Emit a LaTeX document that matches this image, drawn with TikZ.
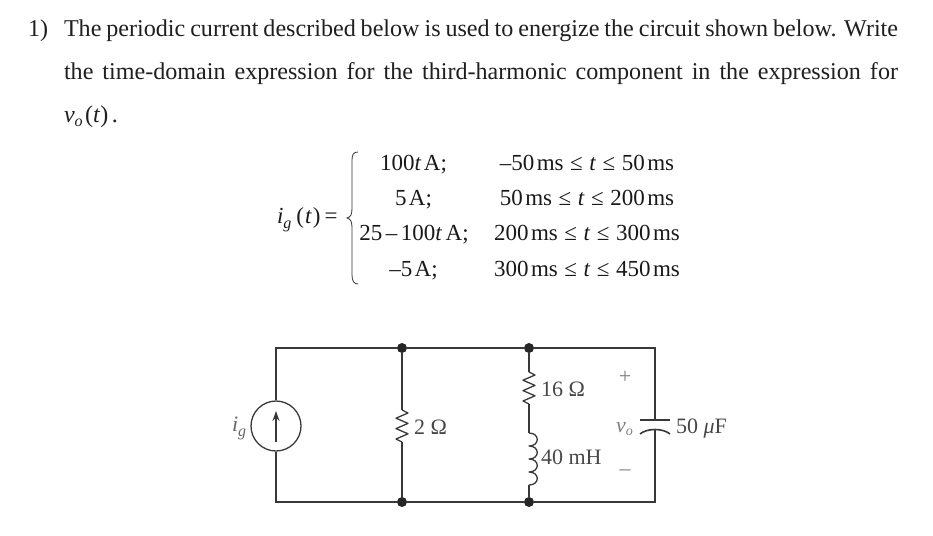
\documentclass[tikz,border=0pt]{standalone}
\usepackage{fontspec}
\setmainfont{Liberation Serif}
\usetikzlibrary{arrows.meta}
\newcommand{\thinsp}{\kern2.5pt}
\newcommand{\legap}{\kern6.5pt}
\tikzset{
  x=1pt,y=-1pt,
  ptext/.style={anchor=base west,inner sep=0pt,outer sep=0pt,text=black!88,font=\fontsize{24.1}{28}\selectfont},
  eqtext/.style={anchor=base,inner sep=0pt,outer sep=0pt,text=black!90,font=\fontsize{23}{26}\selectfont},
  wire/.style={draw=black!78,line width=1.3pt,line join=miter},
  dotnode/.style={circle,fill=black!85,inner sep=0pt,minimum size=10pt},
  srcnode/.style={circle,draw=black!78,line width=1.3pt,minimum size=50pt,inner sep=0pt},
  clabel/.style={anchor=base west,inner sep=0pt,outer sep=0pt,text=black!72,font=\fontsize{22}{24}\selectfont},
  glabel/.style={inner sep=0pt,outer sep=0pt,text=black!50,font=\fontsize{22}{24}\selectfont},
}
\begin{document}
\begin{tikzpicture}
\useasboundingbox (0,0) rectangle (933,535);
% text
\node[ptext] (n1) at (28,37) {1)};
\node[ptext] (l1) at (64,37) {\hbox to 834pt{The periodic current described below is used to energize the circuit shown below. Write}};
\node[ptext] (l2) at (64,79) {\hbox to 834pt{the time-domain expression for the third-harmonic component in the expression for}};
\node[ptext] (l3) at (64,122) {\textit{v}\raisebox{-4pt}{\fontsize{16}{18}\selectfont\textit{o}}\kern2.5pt(\textit{t})\kern3.5pt.};
% equation
\node[eqtext,anchor=base west] (ig) at (277,223) {\textit{i}\raisebox{-5pt}{\fontsize{16}{18}\selectfont\textit{g}}\kern5pt(\kern1pt\textit{t}\kern1pt)\kern4pt=};
\draw[draw=black!80,line width=.8pt] (358,152) .. controls (354,152) and (352,154) .. (352,160)
  -- (352,208) .. controls (352,214) and (351,217) .. (347,218)
  .. controls (351,219) and (352,222) .. (352,228) -- (352,275)
  .. controls (352,281) and (354,284) .. (358,284);
\node[eqtext] (a1) at (413.5,170) {100\textit{t}\thinsp A;};
\node[eqtext] (a2) at (413.5,205) {5\thinsp A;};
\node[eqtext] (a3) at (414,240) {25\kern3.5pt–\kern3.5pt100\textit{t}\kern3.5pt A;};
\node[eqtext] (a4) at (413.5,276) {–5\thinsp A;};
\node[eqtext] (b1) at (587,170) {–50\thinsp ms\legap ≤\legap \textit{t}\legap ≤\legap 50\thinsp ms};
\node[eqtext] (b2) at (587,205) {50\thinsp ms\legap ≤\legap \textit{t}\legap ≤\legap 200\thinsp ms};
\node[eqtext] (b3) at (587,240) {200\thinsp ms\legap ≤\legap \textit{t}\legap ≤\legap 300\thinsp ms};
\node[eqtext] (b4) at (587,276) {300\thinsp ms\legap ≤\legap \textit{t}\legap ≤\legap 450\thinsp ms};
% circuit nodes
\coordinate (tl) at (276,348);
\coordinate (bl) at (276,502);
\coordinate (tr) at (655,348);
\coordinate (br) at (655,502);
\node[srcnode] (src) at (276,426) {};
\node[dotnode] (t1) at (402,348) {};
\node[dotnode] (b1c) at (402,502) {};
\node[dotnode] (t2) at (529,348) {};
\node[dotnode] (b2c) at (529,502) {};
\coordinate (r2a) at (402,410);
\coordinate (r2b) at (402,442);
\coordinate (r16a) at (529,372);
\coordinate (r16b) at (529,404);
\coordinate (la) at (529,433);
\coordinate (lb) at (529,485);
\coordinate (cu) at (655,420);
\coordinate (cl) at (655,430);
\coordinate (arb) at (276,442);
\coordinate (art) at (276,411);
% wires
\draw[wire] (src.north) -- (tl) -- (t1) -- (t2) -- (tr) -- (cu);
\draw[wire] (src.south) -- (bl) -- (b1c) -- (b2c) -- (br) -- (cl);
\draw[wire] (t1) -- (r2a);
\draw[wire] (r2b) -- (b1c);
\draw[wire] (t2) -- (r16a);
\draw[wire] (r16b) -- (la);
\draw[wire] (lb) -- (b2c);
% resistors
\draw[wire,line join=round] (r2a) -- ++(6,3) -- ++(-12,5.2) -- ++(12,5.2) -- ++(-12,5.2) -- ++(12,5.2) -- ++(-12,5.2) -- (r2b);
\draw[wire,line join=round] (r16a) -- ++(6,3) -- ++(-12,5.2) -- ++(12,5.2) -- ++(-12,5.2) -- ++(12,5.2) -- ++(-12,5.2) -- (r16b);
% inductor
\draw[wire,line join=round] (la) .. controls (540,433) and (540,446) .. (529,446)
  .. controls (540,446) and (540,459) .. (529,459)
  .. controls (540,459) and (540,472) .. (529,472)
  .. controls (540,472) and (540,485) .. (lb);
% capacitor
\draw[wire,line width=1.6pt] (640,420) -- (670,420);
\draw[wire,line width=1.6pt] (640,434) .. controls (647,428) and (663,428) .. (670,434);
% source arrow
\draw[wire,-{Stealth[length=10pt,width=7pt]}] (arb) -- (art);
% labels
\node[clabel,text=black!60] (ilab) at (232,431) {\textit{i}\raisebox{-5pt}{\fontsize{16}{18}\selectfont\textit{g}}};
\node[clabel] (l2o) at (414,434) {2 Ω};
\node[clabel] (l16) at (541,396) {16 Ω};
\node[clabel] (l40) at (541,464) {40 mH};
\node[clabel] (l50) at (676,433) {50 \textit{μ}F};
\node[clabel,text=black!50] (vo) at (616,432) {\textit{v}\raisebox{-3pt}{\fontsize{14}{16}\selectfont\textit{o}}};
\node[glabel] (pl) at (625,377) {+};
\node[glabel] (mi) at (625,473) {–};
\end{tikzpicture}
\end{document}
